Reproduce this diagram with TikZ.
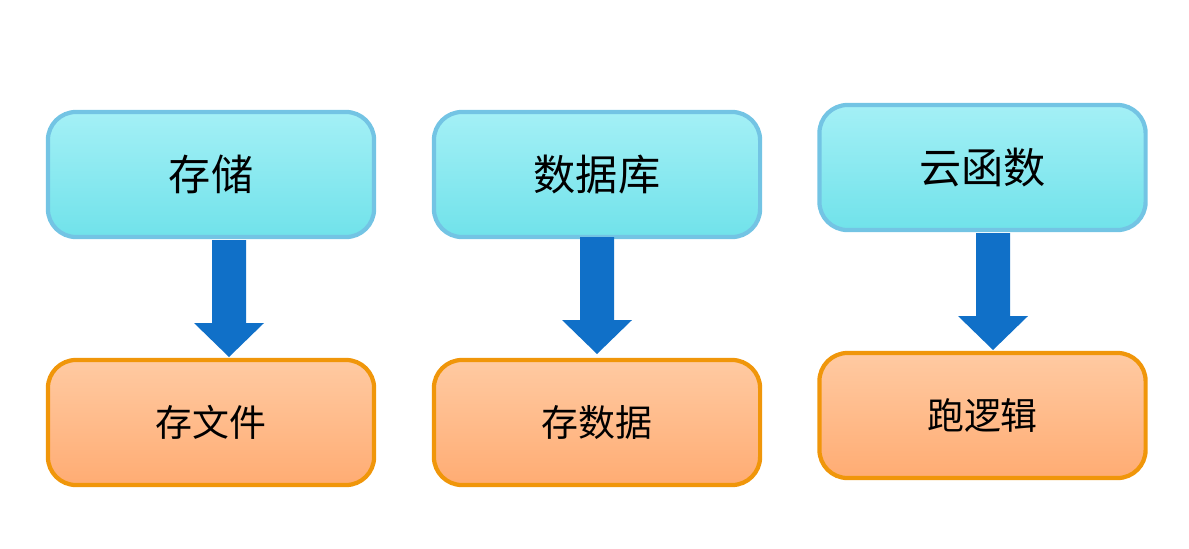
\documentclass[tikz,border=0pt]{standalone}
\usepackage{fontspec}
\newfontfamily\cjk{Noto Sans CJK SC}
\begin{document}
\begin{tikzpicture}[x=0.01cm,y=-0.01cm,
  top/.style={draw=cyan!70!teal!60, line width=1.2pt, rounded corners=8pt, top color={rgb,255:red,164;green,240;blue,246}, bottom color={rgb,255:red,112;green,226;blue,234}, minimum width=3.26cm, minimum height=1.25cm, font=\cjk\fontsize{12}{14}\selectfont},
  bot/.style={draw={rgb,255:red,240;green,150;blue,10}, line width=1.2pt, rounded corners=8pt, top color={rgb,255:red,255;green,202;blue,162}, bottom color={rgb,255:red,255;green,172;blue,115}, minimum width=3.26cm, minimum height=1.25cm, font=\cjk\fontsize{10.5}{12}\selectfont},
  arr/.style={fill={rgb,255:red,16;green,112;blue,200}, draw=none}]
\useasboundingbox (0,0) rectangle (1189,548);
\node[top] (t1) at (211,174.5) {存储};
\node[top] (t2) at (597,174.5) {数据库};
\node[top] (t3) at (982.5,167.5) {云函数};
\node[bot] (b1) at (211,422.5) {存文件};
\node[bot] (b2) at (597,422.5) {存数据};
\node[bot] (b3) at (982.5,415.5) {跑逻辑};
\foreach \c/\t/\h in {229/240/357, 597/237/354, 993/233/350}{
  \fill[arr] (\c-17,\t) -- (\c+17,\t) -- (\c+17,\h-34) -- (\c+35,\h-34) -- (\c,\h) -- (\c-35,\h-34) -- (\c-17,\h-34) -- cycle;
}
\end{tikzpicture}
\end{document}
